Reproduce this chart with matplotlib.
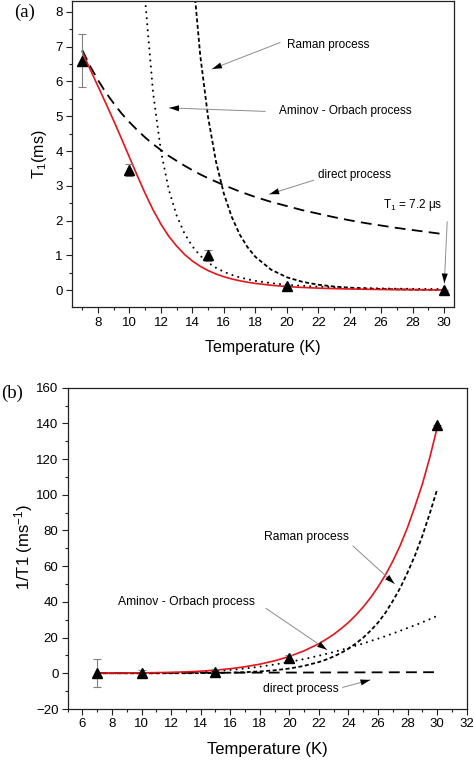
import matplotlib
matplotlib.use("Agg")
import matplotlib.pyplot as plt
from matplotlib.ticker import MultipleLocator

plt.rcParams['font.family'] = ['Liberation Sans', 'DejaVu Sans']
plt.rcParams['mathtext.default'] = 'regular'

# ---------------- data: panel (a) T1 (ms) ----------------
temps_a = [7, 7.5, 8, 8.5, 9, 9.5, 10, 10.5, 11, 11.5, 12, 12.5, 13, 13.5, 14, 14.5,
           15, 15.5, 16, 16.5, 17, 17.5, 18, 19, 20, 21, 22, 23, 24, 25, 26, 27, 28, 29, 30]
fit_a = [6.85, 6.35, 5.86, 5.37, 4.87, 4.35, 3.82, 3.29, 2.78, 2.31, 1.90, 1.55, 1.27, 1.03,
         0.840, 0.687, 0.565, 0.467, 0.388, 0.324, 0.273, 0.230, 0.196, 0.143, 0.106, 0.0795,
         0.0601, 0.0458, 0.0350, 0.0269, 0.0207, 0.0159, 0.0123, 0.0095, 0.0074]
direct_a = [6.90, 6.44, 6.04, 5.68, 5.37, 5.08, 4.83, 4.60, 4.39, 4.20, 4.03, 3.86, 3.72, 3.58,
            3.45, 3.33, 3.22, 3.12, 3.02, 2.93, 2.84, 2.76, 2.68, 2.54, 2.42, 2.30, 2.20, 2.10,
            2.01, 1.93, 1.86, 1.79, 1.73, 1.67, 1.61]
temps_orbach_a = [11, 11.5, 12, 12.5, 13, 13.5, 14, 14.5, 15, 15.5, 16, 16.5, 17, 17.5, 18,
                  19, 20, 21, 22, 23, 24, 25, 26, 27, 28, 29, 30]
orbach_a = [8.34, 5.68, 4.00, 2.89, 2.15, 1.63, 1.26, 0.993, 0.794, 0.645, 0.530, 0.441, 0.371,
            0.315, 0.270, 0.204, 0.158, 0.125, 0.102, 0.0838, 0.0703, 0.0598, 0.0515, 0.0448,
            0.0394, 0.0350, 0.0313]
temps_raman_a = [14, 14.5, 15, 15.5, 16, 16.5, 17, 17.5, 18, 19, 20, 21, 22, 23, 24, 25, 26,
                 27, 28, 29, 30]
raman_a = [9.26, 6.75, 4.97, 3.70, 2.78, 2.11, 1.61, 1.24, 0.963, 0.592, 0.373, 0.241, 0.158,
           0.106, 0.0723, 0.0501, 0.0352, 0.0251, 0.0181, 0.0132, 0.0097]
meas_T = [7, 10, 15, 20, 30]
meas_T1 = [6.6, 3.45, 1.0, 0.13, 0.007]
meas_T1_err = [0.77, 0.17, 0.17, 0.03, 0.0]

# ---------------- data: panel (b) 1/T1 (ms^-1) ----------------
temps_b = [7, 8, 9, 10, 11, 12, 13, 14, 15, 16, 17, 18, 19, 20, 21, 22, 22.5, 23, 23.5,
           24, 24.5, 25, 25.5, 26, 26.5, 27, 27.5, 28, 28.5, 29, 29.5, 30]
fit_b = [0.146, 0.171, 0.205, 0.262, 0.360, 0.525, 0.790, 1.19, 1.77, 2.58, 3.67, 5.11, 7.00,
         9.43, 12.6, 16.6, 19.1, 21.8, 25.0, 28.5, 32.6, 37.2, 42.4, 48.4, 55.1, 62.8, 71.6,
         81.8, 93.5, 106.0, 120.8, 137.5]
orbach_b = [0.0008, 0.0044, 0.0169, 0.0496, 0.120, 0.250, 0.466, 0.793, 1.26, 1.89, 2.69,
            3.70, 4.91, 6.34, 7.99, 9.85, 10.9, 11.9, 13.1, 14.2, 15.5, 16.7, 18.1, 19.4, 20.8,
            22.3, 23.8, 25.4, 26.9, 28.6, 30.3, 32.2]
raman_b = [0.0002, 0.0007, 0.002, 0.005, 0.012, 0.027, 0.056, 0.108, 0.201, 0.360, 0.621,
           1.04, 1.69, 2.68, 4.16, 6.32, 7.73, 9.43, 11.4, 13.8, 16.7, 20.0, 23.9, 28.4, 33.9,
           40.5, 47.8, 56.5, 66.0, 77.0, 89.5, 103.0]
direct_b = [0.145, 0.166, 0.186, 0.207, 0.228, 0.248, 0.269, 0.290, 0.311, 0.331, 0.352,
            0.373, 0.393, 0.414, 0.435, 0.455, 0.466, 0.476, 0.487, 0.497, 0.507, 0.518,
            0.528, 0.538, 0.549, 0.559, 0.569, 0.580, 0.590, 0.600, 0.611, 0.621]
meas_rate = [0.15, 0.29, 1.0, 8.7, 139.0]
meas_rate_err = [7.8, 1.6, 1.2, 1.5, 0.0]

RED = '#e3161c'
GRAY = '0.5'

fig = plt.figure(figsize=(4.74, 7.60), dpi=100)
ax1 = fig.add_axes([0.152, 0.5957, 0.806, 0.4033])
ax2 = fig.add_axes([0.1428, 0.0671, 0.8418, 0.4228])


def style_axes(ax):
    for sp in ax.spines.values():
        sp.set_linewidth(0.9)
        sp.set_color('#222222')
    ax.tick_params(which='both', direction='out', top=False, right=False,
                   labelsize=9.5, width=0.8, color='#222222')
    ax.tick_params(which='major', length=4.2, pad=2.5)
    ax.tick_params(which='minor', length=2.4)


def arrow(ax, tail, head):
    ax.annotate('', xy=head, xytext=tail,
                arrowprops=dict(arrowstyle='-', color='0.55', lw=0.7,
                                shrinkA=0, shrinkB=0))
    ax.annotate('', xy=head, xytext=tail,
                arrowprops=dict(arrowstyle='-|>,head_length=0.7,head_width=0.22',
                                fc='black', ec='none', lw=0, shrinkA=0, shrinkB=0,
                                mutation_scale=10))


def draw_panel(ax, tf, fit, td, direct, to, orbach, tr, raman, my, myerr):
    ax.plot(td, direct, color='black', lw=1.3, dashes=(6, 3.5))
    ax.plot(tr, raman, color='black', lw=1.3, dashes=(2.2, 1.4))
    ax.plot(to, orbach, color='black', lw=1.5, dashes=(0.01, 2.9),
            dash_capstyle='round')
    ax.plot(tf, fit, color=RED, lw=1.2)
    ax.errorbar(meas_T, my, yerr=myerr, fmt='none', ecolor=GRAY, elinewidth=0.8,
                capsize=3, capthick=0.8, zorder=4)
    ax.plot(meas_T, my, linestyle='none', marker='^', ms=6.5, color='black', zorder=5)


# ---------------- panel (a) ----------------
draw_panel(ax1, temps_a, fit_a, temps_a, direct_a, temps_orbach_a, orbach_a,
           temps_raman_a, raman_a, meas_T1, meas_T1_err)
ax1.set_xlim(6.35, 30.64)
ax1.set_ylim(-0.49, 8.32)
ax1.xaxis.set_major_locator(MultipleLocator(2))
ax1.xaxis.set_minor_locator(MultipleLocator(1))
ax1.yaxis.set_major_locator(MultipleLocator(1))
ax1.yaxis.set_minor_locator(MultipleLocator(0.5))
style_axes(ax1)
ax1.set_xlabel('Temperature (K)', fontsize=11.5)
ax1.set_ylabel('T$_1$(ms)', fontsize=11.5)
ax1.xaxis.set_label_coords(0.5, -0.132)
ax1.xaxis.label.set_va('center')
ax1.yaxis.set_label_coords(-0.084, 0.5)
ax1.yaxis.label.set_va('center')

ax1.text(20.03, 7.06, 'Raman process', fontsize=8.5, ha='left', va='center')
arrow(ax1, (19.58, 7.12), (15.26, 6.36))
ax1.text(19.5, 5.14, 'Aminov - Orbach process', fontsize=8.5, ha='left', va='center')
arrow(ax1, (18.63, 5.14), (12.53, 5.24))
ax1.text(21.97, 3.31, 'direct process', fontsize=8.5, ha='left', va='center')
arrow(ax1, (21.7, 3.16), (18.9, 2.76))
ax1.text(26.15, 2.44, 'T$_1$ = 7.2 μs', fontsize=8.5, ha='left', va='center')
arrow(ax1, (30.2, 1.97), (30.02, 0.2))

# ---------------- panel (b) ----------------
draw_panel(ax2, temps_b, fit_b, temps_b, direct_b, temps_b, orbach_b,
           temps_b, raman_b, meas_rate, meas_rate_err)
ax2.set_xlim(5, 32)
ax2.set_ylim(-20, 160)
ax2.xaxis.set_major_locator(MultipleLocator(2))
ax2.xaxis.set_minor_locator(MultipleLocator(1))
ax2.yaxis.set_major_locator(MultipleLocator(20))
ax2.yaxis.set_minor_locator(MultipleLocator(10))
style_axes(ax2)
ax2.set_xlabel('Temperature (K)', fontsize=12)
ax2.set_ylabel('1/T1 (ms$^{-1}$)', fontsize=12)
ax2.xaxis.set_label_coords(0.5, -0.1245)
ax2.xaxis.label.set_va('center')
ax2.yaxis.set_label_coords(-0.1095, 0.504)
ax2.yaxis.label.set_va('center')

ax2.text(18.31, 76.1, 'Raman process', fontsize=8.7, ha='left', va='center')
arrow(ax2, (24.3, 71.3), (27.11, 50.2))
ax2.text(8.4, 40.2, 'Aminov - Orbach process', fontsize=8.7, ha='left', va='center')
arrow(ax2, (18.41, 36.4), (22.54, 13.2))
ax2.text(18.2, -8.8, 'direct process', fontsize=8.7, ha='left', va='center')
arrow(ax2, (23.6, -7.9), (25.47, -3.7))

# panel letters
fig.text(25 / 474, 1 - 12 / 760, '(a)', family=['Liberation Serif', 'DejaVu Serif'],
         fontsize=13.5, ha='center', va='center')
fig.text(12 / 474, 1 - 393 / 760, '(b)', family=['Liberation Serif', 'DejaVu Serif'],
         fontsize=13.5, ha='center', va='center')

fig.savefig('out.png', dpi=100)
